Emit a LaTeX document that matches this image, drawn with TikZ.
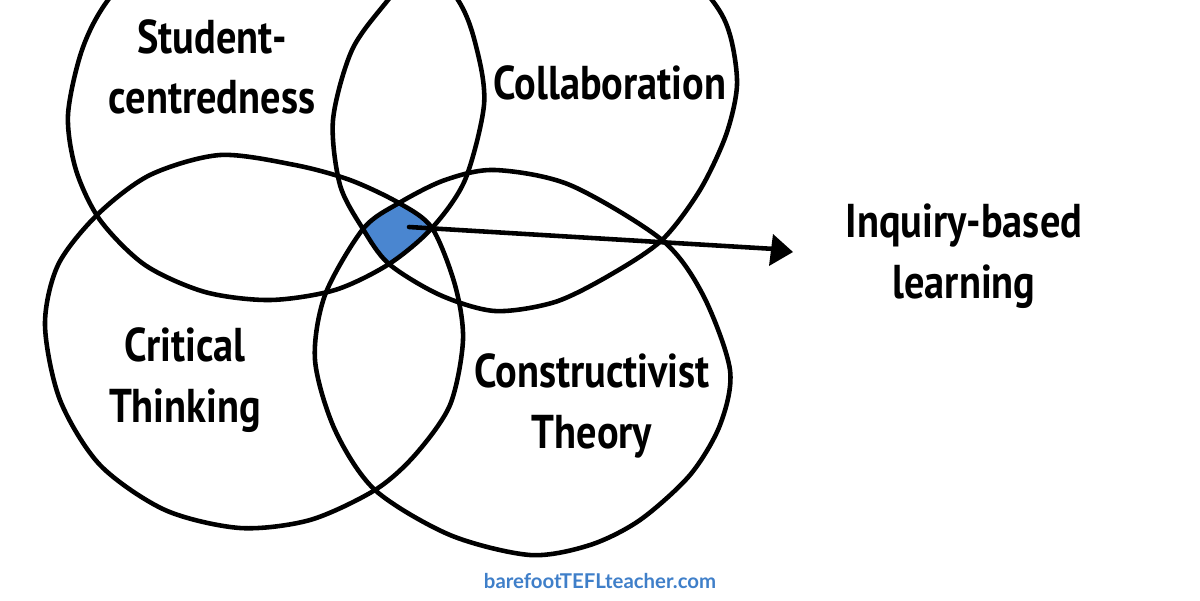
\documentclass[tikz,border=0pt]{standalone}
\usepackage{fontspec}
\setmainfont[FakeStretch=0.85]{PT Sans}
\newfontfamily\sitefont{Lato}
\definecolor{patchblue}{HTML}{4A86D0}
\definecolor{siteblue}{HTML}{3F7FC9}
\tikzset{
ring/.style={line width=2.6pt,black},
topic/.style={font=\fontsize{27}{34.5}\selectfont\bfseries,align=center,inner sep=0pt},
}
\def\ringa{plot[smooth cycle] coordinates {(108,0) (82,50) (68,115) (76,170) (100,220) (145,265) (205,292) (270,300) (335,290) (389,264) (432,228) (465,180) (484,105) (477,50) (458,0) (400,-70) (280,-110) (170,-70)}}
\def\ringb{plot[smooth cycle] coordinates {(388,0) (352,50) (333,120) (340,185) (363,229) (389,264) (440,295) (495,311) (555,302) (610,275) (662,240) (700,190) (726,135) (737,85) (730,35) (712,0) (650,-70) (540,-100) (440,-60)}}
\def\ringc{plot[smooth cycle] coordinates {(45,325) (58,265) (97,215) (150,175) (220,155) (295,165) (350,180) (399,203) (432,228) (455,285) (463,340) (450,405) (415,455) (375,490) (310,520) (240,528) (165,510) (100,465) (60,400)}}
\def\ringd{plot[smooth cycle] coordinates {(315,360) (325,295) (363,229) (399,203) (445,180) (495,170) (570,185) (662,240) (703,295) (730,370) (720,425) (690,475) (640,520) (590,545) (530,555) (450,535) (375,490) (335,430)}}
\begin{document}
\begin{tikzpicture}[x=0.02cm,y=-0.02cm]
\useasboundingbox (0,0) rectangle (1200,600);
\begin{scope}
\clip (0,0) rectangle (1200,600);
%patch
\begin{scope}
\clip \ringa;
\clip \ringb;
\clip \ringc;
\clip \ringd;
\fill[patchblue] (340,180) rectangle (450,280);
\end{scope}
%circles
\draw[ring] \ringa;
\draw[ring] \ringb;
\draw[ring] \ringc;
\draw[ring] \ringd;
\end{scope}
%text
\node[topic] (student) at (212,67) {Student-\\centredness};
\node[topic] (collab) at (610,83) {Collaboration};
\node[topic] (critical) at (185,380) {Critical\\Thinking};
\node[topic] (construct) at (592,406) {Constructivist\\Theory};
\node[topic] (inquiry) at (964,256) {Inquiry-based\\learning};
\node[font=\sitefont\fontsize{11.6}{14}\selectfont\bfseries,text=siteblue,inner sep=0pt] (site) at (600,581) {barefootTEFLteacher.com};
%arrow
\coordinate (start) at (409,227);
\coordinate (tip) at (793,252);
\coordinate (headtop) at (773,234);
\coordinate (headbot) at (769,266);
\draw[line width=2.6pt,line cap=round] (start)--(775,249);
\fill (tip)--(headtop)--(headbot)--cycle;
\end{tikzpicture}
\end{document}
